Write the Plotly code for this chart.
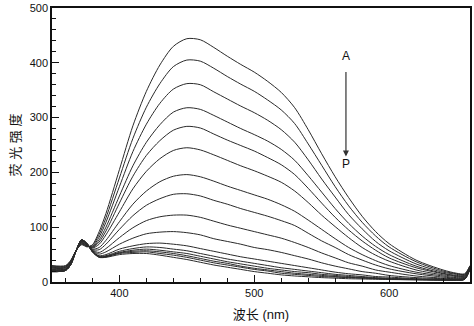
import plotly.graph_objects as go

# Emission wavelength grid (nm)
wavelength = [350, 360, 364, 368, 372, 376, 380, 385, 390, 400, 410, 420, 430, 440, 450,
              460, 470, 480, 490, 500, 510, 520, 530, 540, 550, 560, 570, 580, 590, 600,
              620, 640, 650, 656, 660]

# Fluorescence intensity of each spectrum, A (top) to P (bottom)
spec_A = [30, 30, 40, 58, 68, 64, 68, 92, 125, 205, 285, 348, 396, 430, 444,
          442, 428, 412, 397, 383, 366, 346, 318, 278, 234, 192, 154, 120, 92, 70,
          40, 22, 16, 15, 30]
spec_B = [29, 29, 39, 58, 69, 65, 67, 87, 117, 190, 262, 319, 362, 393, 405,
          403, 390, 375, 361, 348, 332, 314, 289, 252, 213, 174, 139, 109, 84, 64,
          37, 20, 15, 14, 29]
spec_C = [28, 28, 38, 58, 70, 65, 65, 82, 109, 174, 238, 288, 326, 352, 362,
          360, 347, 334, 321, 309, 295, 278, 255, 223, 188, 155, 123, 97, 74, 57,
          33, 18, 14, 13, 29]
spec_D = [27, 27, 38, 58, 71, 66, 64, 77, 100, 157, 212, 255, 287, 310, 318,
          315, 304, 292, 280, 269, 257, 242, 222, 194, 164, 134, 107, 84, 65, 50,
          29, 16, 12, 12, 28]
spec_E = [26, 26, 37, 58, 72, 66, 63, 73, 93, 144, 193, 231, 258, 277, 284,
          281, 270, 259, 249, 239, 227, 214, 196, 171, 144, 118, 95, 75, 58, 44,
          26, 15, 11, 11, 28]
spec_F = [25, 26, 36, 58, 72, 67, 62, 69, 86, 128, 170, 202, 225, 240, 245,
          241, 232, 222, 212, 203, 193, 182, 166, 145, 122, 101, 81, 63, 49, 38,
          22, 13, 10, 10, 27]
spec_G = [23, 24, 35, 58, 74, 68, 60, 63, 76, 110, 142, 166, 183, 193, 196,
          192, 184, 175, 167, 159, 151, 141, 129, 113, 96, 79, 63, 50, 39, 30,
          18, 11, 8, 9, 26]
spec_H = [22, 24, 34, 58, 74, 68, 59, 59, 69, 96, 121, 140, 152, 160, 161,
          157, 149, 142, 134, 127, 120, 112, 103, 89, 75, 63, 50, 40, 31, 24,
          15, 9, 7, 8, 26]
spec_I = [21, 23, 34, 58, 75, 69, 58, 54, 61, 81, 99, 112, 119, 122, 122,
          118, 111, 104, 98, 92, 86, 80, 72, 63, 53, 44, 35, 29, 22, 18,
          11, 7, 6, 7, 25]
spec_J = [20, 22, 33, 58, 76, 69, 57, 51, 55, 69, 80, 88, 91, 92, 90,
          86, 79, 74, 69, 63, 59, 54, 48, 42, 35, 29, 24, 19, 16, 12,
          8, 6, 5, 6, 25]
spec_K = [20, 22, 33, 58, 76, 70, 56, 48, 50, 60, 66, 70, 71, 69, 66,
          61, 56, 51, 46, 42, 38, 34, 30, 26, 22, 18, 15, 13, 10, 9,
          6, 5, 4, 6, 24]
spec_L = [19, 21, 32, 58, 77, 70, 56, 47, 48, 56, 61, 64, 63, 60, 57,
          52, 47, 42, 38, 34, 30, 26, 23, 20, 17, 14, 12, 10, 8, 7,
          5, 4, 4, 5, 24]
spec_M = [19, 21, 32, 58, 77, 70, 55, 46, 47, 54, 58, 60, 58, 55, 52,
          47, 42, 37, 33, 29, 25, 22, 19, 17, 14, 12, 10, 8.5, 7, 6,
          5, 4, 4, 5, 24]
spec_N = [19, 21, 32, 58, 77, 70, 55, 46, 46, 53, 56, 57, 55, 52, 48,
          43, 38, 34, 29, 25, 22, 19, 16, 14, 12, 10, 8.5, 7.5, 6.5, 5.5,
          4.5, 3.5, 3.5, 5, 24]
spec_O = [19, 21, 32, 58, 77, 70, 55, 45, 46, 52, 54, 55, 52, 49, 45,
          40, 35, 31, 27, 23, 20, 16, 14, 12, 10, 9, 8, 7, 6, 5,
          4, 3.5, 3.5, 5, 24]
spec_P = [19, 21, 32, 58, 77, 70, 55, 45, 45, 50, 52, 52, 49, 45, 41,
          36, 31, 27, 23, 19, 16, 13, 11, 9.5, 8, 7, 6, 5.5, 5, 4.5,
          4, 3.5, 3.5, 5, 24]

spectra = [spec_A, spec_B, spec_C, spec_D, spec_E, spec_F, spec_G, spec_H,
           spec_I, spec_J, spec_K, spec_L, spec_M, spec_N, spec_O, spec_P]
labels = list("ABCDEFGHIJKLMNOP")

x_range = [350, 660]
y_range = [0, 500]

font_latin = "Liberation Sans, Arial, sans-serif"
font_cjk = "Liberation Sans, Noto Sans CJK SC, sans-serif"

fig = go.Figure()
for name, ys in zip(labels, spectra):
    fig.add_trace(go.Scatter(
        x=wavelength, y=ys, name=name, mode="lines",
        line=dict(color="#2a2a2a", width=1, shape="spline", smoothing=0.8),
        showlegend=False, hoverinfo="skip",
    ))

# Direction of the series: A at the top, P at the bottom
fig.add_annotation(x=568, y=413, text="A", showarrow=False,
                   font=dict(family=font_latin, size=12, color="#111"))
fig.add_annotation(x=568, y=216, text="P", showarrow=False,
                   font=dict(family=font_latin, size=12, color="#111"))
fig.add_annotation(x=568, y=229, ax=568, ay=386, xref="x", yref="y",
                   axref="x", ayref="y", text="", showarrow=True,
                   arrowhead=2, arrowsize=1, arrowwidth=1.2, arrowcolor="#333")

fig.update_layout(
    width=474, height=326,
    margin=dict(l=52, r=2, t=7, b=44),
    paper_bgcolor="white", plot_bgcolor="white",
    font=dict(family=font_latin, size=11, color="#111"),
    xaxis=dict(
        range=x_range, showgrid=False, zeroline=False,
        showline=True, linecolor="#111", linewidth=1.5, mirror=True,
        ticks="inside", ticklen=7, tickwidth=1.2, tickcolor="#111",
        tick0=0, dtick=100,
        minor=dict(ticks="inside", ticklen=4, tickwidth=1, dtick=20, tick0=0,
                   tickcolor="#111", showgrid=False),
        tickfont=dict(size=11),
        title=dict(text="波长 (nm)", font=dict(family=font_cjk, size=13), standoff=12),
    ),
    yaxis=dict(
        range=y_range, showgrid=False, zeroline=False,
        showline=True, linecolor="#111", linewidth=1.5, mirror=True,
        ticks="inside", ticklen=7, tickwidth=1.2, tickcolor="#111",
        tick0=0, dtick=100,
        minor=dict(ticks="inside", ticklen=4, tickwidth=1, dtick=20, tick0=0,
                   tickcolor="#111", showgrid=False),
        tickfont=dict(size=11),
        title=dict(text="荧 光 强 度", font=dict(family=font_cjk, size=13), standoff=6),
    ),
    yaxis2=dict(
        range=y_range, overlaying="y", side="right", anchor="x",
        showgrid=False, zeroline=False, showline=False,
        ticks="outside", ticklen=3, tickwidth=1, tickcolor="#555",
        tick0=0, dtick=20, showticklabels=False,
    ),
)

fig.write_html("out.html")
